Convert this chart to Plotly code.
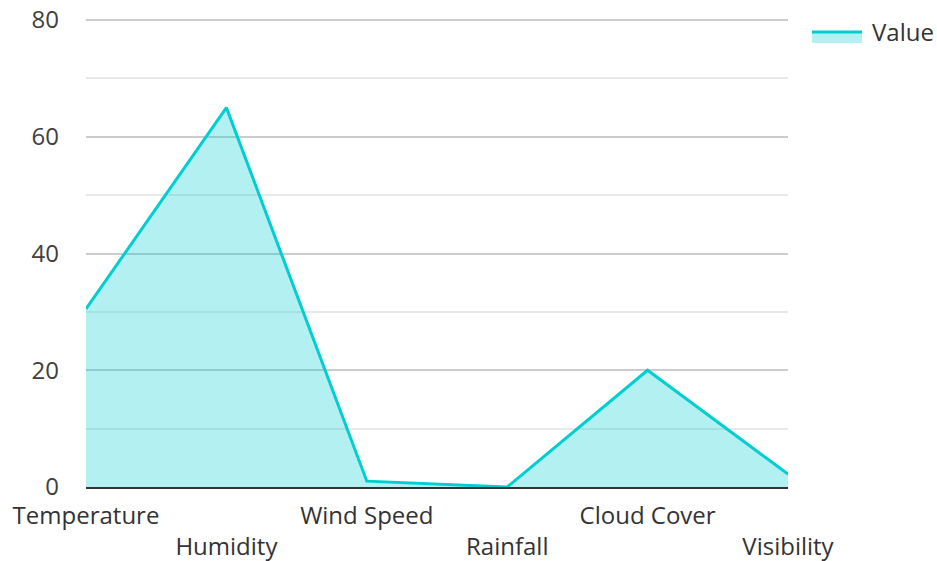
import plotly.graph_objects as go

categories = ["Temperature", "Humidity", "Wind Speed", "Rainfall", "Cloud Cover", "Visibility"]
values = [30.5, 65, 1, 0, 20, 2.2]
series_name = "Value"
y_ticks = [0, 20, 40, 60, 80]

LINE = "#00CED1"
FILL = "rgba(0,206,209,0.3)"
FONT = "Open Sans"
FS = 24

W, H = 937, 561
ML, MR, MT, MB = 86, 149, 18, 74
PW, PH = W - ML - MR, H - MT - MB

def px(x):
    return (x - ML) / PW

def py(y):
    return 1 - (y - MT) / PH

ticktext = [c if i % 2 == 0 else " <br>" + c for i, c in enumerate(categories)]

fig = go.Figure()
fig.add_trace(go.Scatter(
    x=categories, y=values, name=series_name, mode="lines",
    line=dict(color=LINE, width=3), fill="tozeroy", fillcolor=FILL,
    showlegend=False,
))

# custom legend entry
fig.add_shape(type="rect", xref="paper", yref="paper",
              x0=px(812), x1=px(862), y0=py(33), y1=py(43),
              fillcolor=FILL, line=dict(width=0))
fig.add_shape(type="line", xref="paper", yref="paper",
              x0=px(812), x1=px(862), y0=py(32), y1=py(32),
              line=dict(color=LINE, width=3))
fig.add_annotation(text=series_name, xref="paper", yref="paper",
                   x=px(870), y=py(32), xanchor="left", yanchor="middle",
                   showarrow=False, font=dict(size=FS, color="#333333"))

fig.update_layout(
    width=W, height=H,
    margin=dict(l=ML, r=MR, t=MT, b=MB, autoexpand=False),
    paper_bgcolor="white", plot_bgcolor="white",
    font=dict(family=FONT, size=FS, color="#404040"),
    showlegend=False,
    xaxis=dict(
        type="category", range=[0, len(categories) - 1],
        tickvals=categories, ticktext=ticktext, automargin=False,
        showgrid=False, showline=True, linecolor="#333333", linewidth=2,
        ticks="", tickfont=dict(size=FS, color="#333333"), zeroline=False,
        ticklabelstandoff=6, ticklabeloverflow="allow",
    ),
    yaxis=dict(
        range=[0, 80.35], tickvals=y_ticks, showgrid=True, gridcolor="#cccccc", gridwidth=1.5,
        minor=dict(dtick=10, showgrid=True, gridcolor="#e8e8e8", gridwidth=1.5),
        zeroline=False, showline=False, ticks="", ticklabelstandoff=26, automargin=False,
        tickfont=dict(size=FS, color="#404040"), ticklabeloverflow="allow",
    ),
)

fig.write_html("out.html", config={"displayModeBar": False},
               post_script="document.body.style.margin='0';document.body.style.overflow='hidden';")
